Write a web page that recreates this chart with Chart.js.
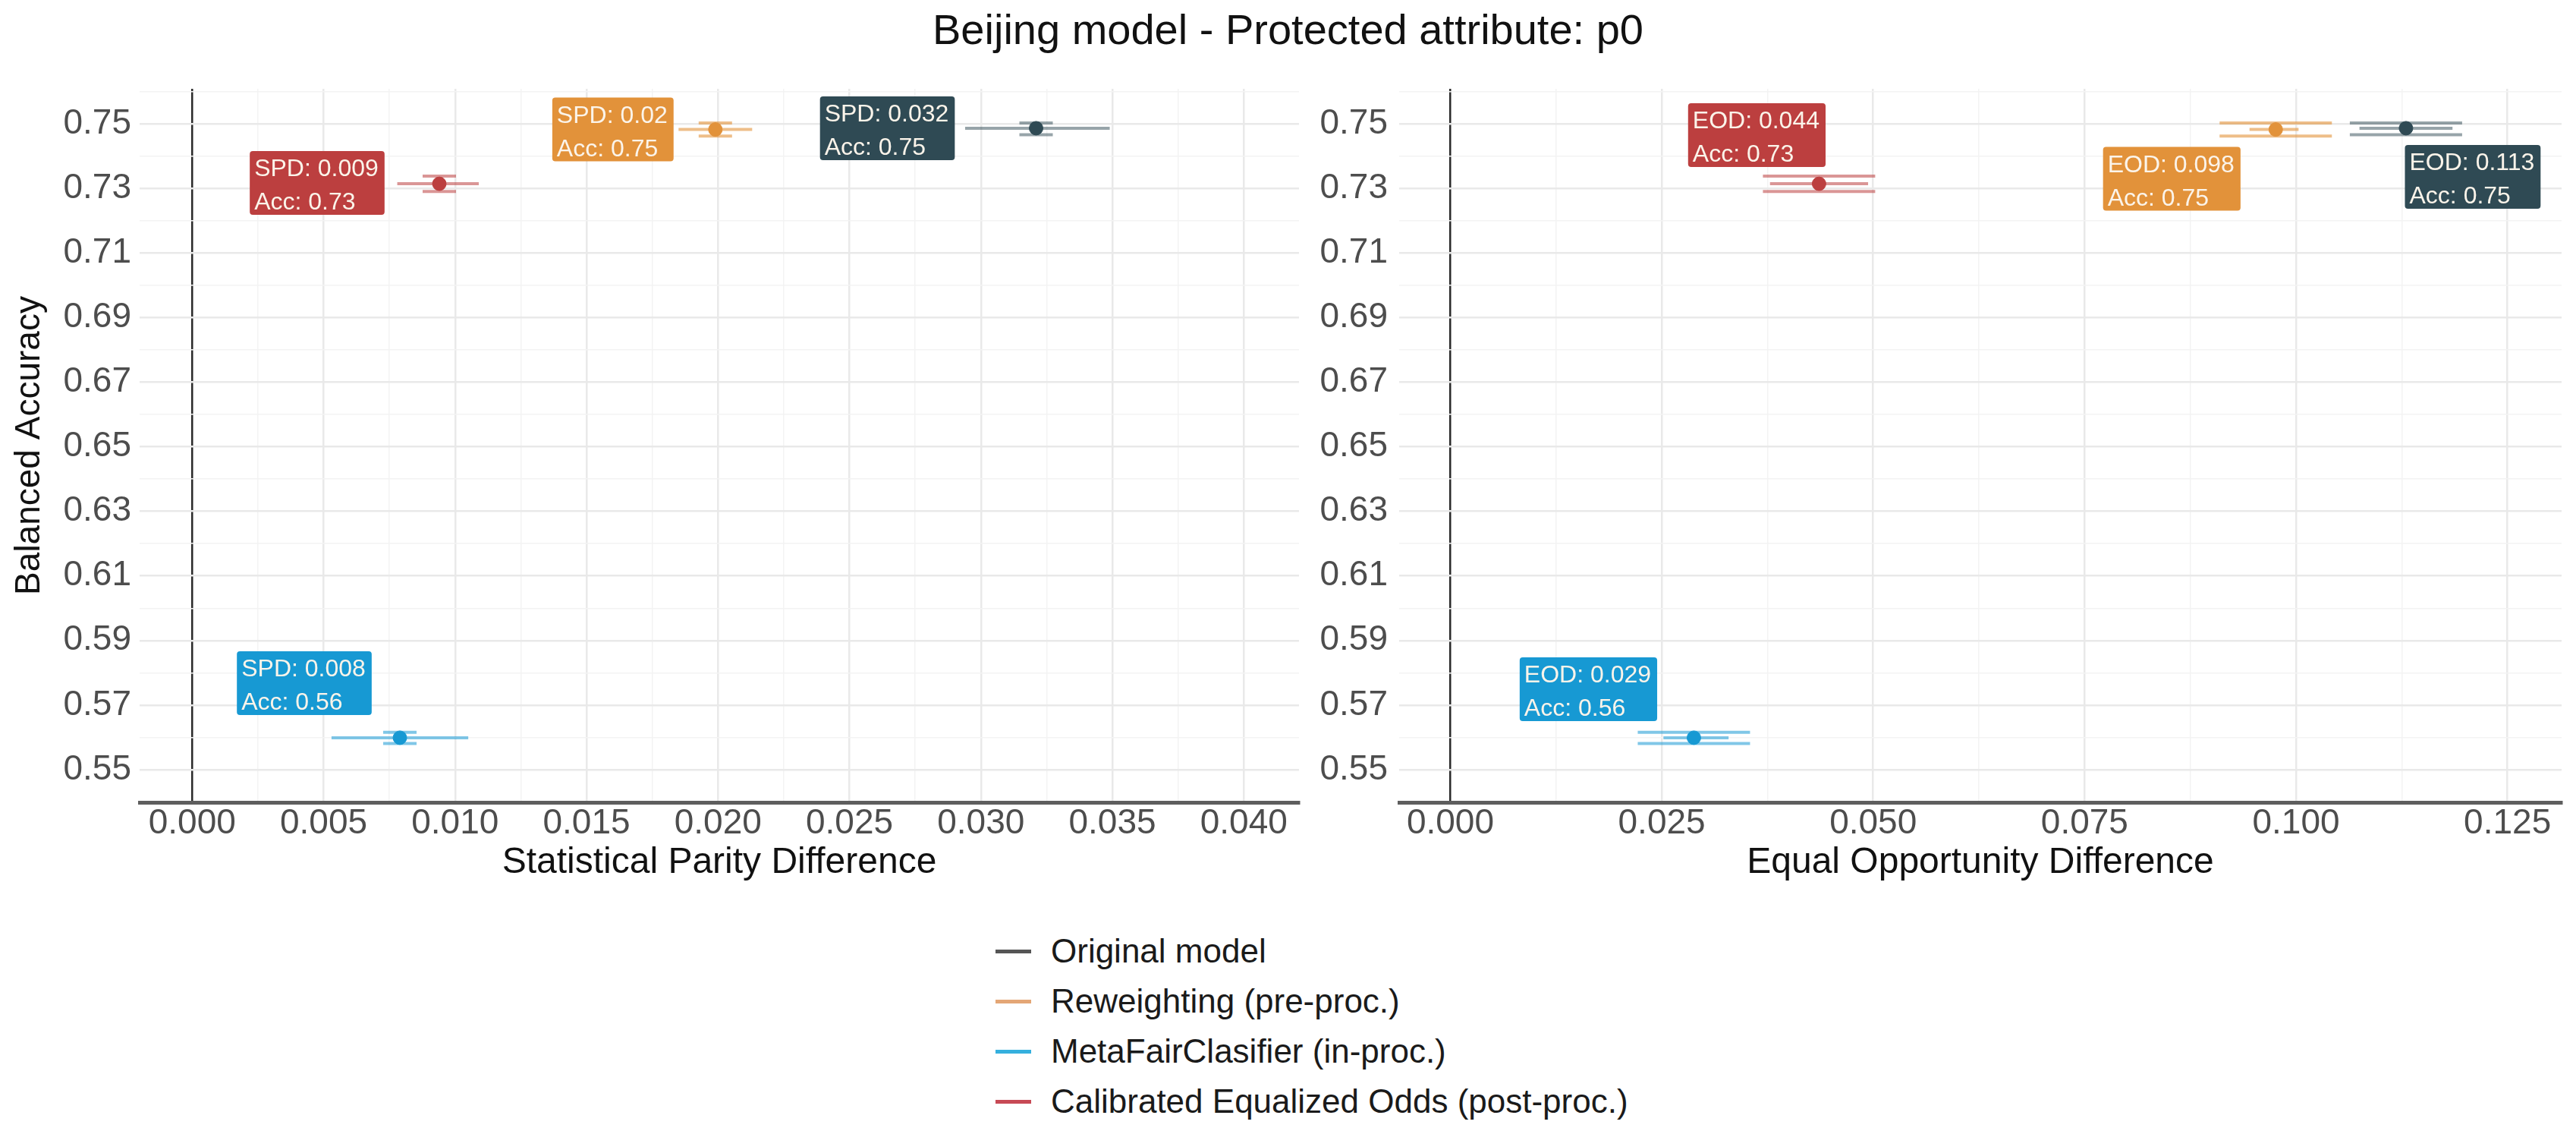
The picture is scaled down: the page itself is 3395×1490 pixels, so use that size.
<!DOCTYPE html>
<html>
<head>
<meta charset="utf-8">
<script src="https://cdn.jsdelivr.net/npm/chart.js@4.4.1/dist/chart.umd.min.js"></script>
<style>
  html, body { margin: 0; padding: 0; background: #fff; }
  #page { position: relative; width: 3395px; height: 1490px; font-family: 'Liberation Sans', Arial, sans-serif; }
  #title { position: absolute; left: 0; top: 11px; width: 3395px; text-align: center; font-size: 56px; line-height: 56px; color: #111; }
  #spdChart { position: absolute; left: 0; top: 0; }
  #eodChart { position: absolute; left: 1715px; top: 0; }
  #legend { position: absolute; left: 1312px; top: 1220px; }
  .row { height: 66px; display: flex; align-items: center; font-size: 44px; color: #1a1a1a; }
  .key { width: 47px; height: 5px; margin-right: 26px; }
</style>
</head>
<body>
<div id="page">
  <div id="title">Beijing model - Protected attribute: p0</div>
  <canvas id="spdChart" width="1730" height="1180"></canvas>
  <canvas id="eodChart" width="1680" height="1180"></canvas>
  <div id="legend"></div>
</div>
<script>
// models, in legend order
const models = ['Original model', 'Reweighting (pre-proc.)', 'MetaFairClasifier (in-proc.)', 'Calibrated Equalized Odds (post-proc.)']

// balanced accuracy (mean and interval)
const accMean = [0.7486, 0.7482, 0.5599, 0.7314]
const accLow = [0.7466, 0.7462, 0.5581, 0.7290]
const accHigh = [0.7502, 0.7502, 0.5616, 0.7338]

// statistical parity difference
const spdMean = [0.0321, 0.0199, 0.0079, 0.0094]
const spdLow = [0.0294, 0.0185, 0.0053, 0.0078]
const spdHigh = [0.0349, 0.0213, 0.0105, 0.0109]

// equal opportunity difference
const eodMean = [0.1130, 0.0976, 0.0288, 0.0436]
const eodLow = [0.1075, 0.0945, 0.0252, 0.0378]
const eodHigh = [0.1185, 0.1003, 0.0329, 0.0494]

// ticks
const yMajor = [0.55, 0.57, 0.59, 0.61, 0.63, 0.65, 0.67, 0.69, 0.71, 0.73, 0.75]
const yMajorLabels = ['0.55', '0.57', '0.59', '0.61', '0.63', '0.65', '0.67', '0.69', '0.71', '0.73', '0.75']
const yMinor = [0.54, 0.56, 0.58, 0.60, 0.62, 0.64, 0.66, 0.68, 0.70, 0.72, 0.74, 0.76]
const spdMajor = [0, 0.005, 0.010, 0.015, 0.020, 0.025, 0.030, 0.035, 0.040]
const spdMajorLabels = ['0.000', '0.005', '0.010', '0.015', '0.020', '0.025', '0.030', '0.035', '0.040']
const spdMinor = [0.0025, 0.0075, 0.0125, 0.0175, 0.0225, 0.0275, 0.0325, 0.0375]
const eodMajor = [0, 0.025, 0.050, 0.075, 0.100, 0.125]
const eodMajorLabels = ['0.000', '0.025', '0.050', '0.075', '0.100', '0.125']
const eodMinor = [0.0125, 0.0375, 0.0625, 0.0875, 0.1125]

const colors = ['#2f4a54', '#e2923a', '#1799d3', '#bc3f3f']
const barColors = ['rgba(47,74,84,0.5)', 'rgba(226,146,58,0.6)', 'rgba(23,153,211,0.55)', 'rgba(188,63,63,0.55)']
const legendColors = ['#555555', '#e4a676', '#35b0de', '#c74a55']
const FONT = "'Liberation Sans', Arial, sans-serif"

const near = (a, b) => Math.abs(a - b) < 1e-9
const fmt3 = v => String(Number(v.toFixed(3)))

// legend
document.getElementById('legend').innerHTML = models.map((m, i) =>
    `<div class="row"><div class="key" style="background:${legendColors[i]}"></div>${m}</div>`).join('')

const errorBars = {
    id: 'errorBars',
    beforeDatasetsDraw(chart, args, opts) {
        const { ctx, scales: { x, y } } = chart
        ctx.save()
        opts.mean.forEach((m, i) => {
            const px = x.getPixelForValue(m)
            const py = y.getPixelForValue(accMean[i])
            const yl = y.getPixelForValue(accLow[i])
            const yh = y.getPixelForValue(accHigh[i])
            ctx.strokeStyle = barColors[i]
            ctx.lineWidth = 4
            ctx.beginPath()
            ctx.moveTo(x.getPixelForValue(opts.low[i]), py)
            ctx.lineTo(x.getPixelForValue(opts.high[i]), py)
            ctx.moveTo(px, yl)
            ctx.lineTo(px, yh)
            ctx.moveTo(px - opts.cap, yl)
            ctx.lineTo(px + opts.cap, yl)
            ctx.moveTo(px - opts.cap, yh)
            ctx.lineTo(px + opts.cap, yh)
            ctx.stroke()
        })
        ctx.restore()
    },
    afterDatasetsDraw(chart, args, opts) {
        const { ctx, scales: { x, y } } = chart
        ctx.save()
        ctx.font = `32px ${FONT}`
        ctx.textAlign = 'left'
        ctx.textBaseline = 'alphabetic'
        opts.mean.forEach((m, i) => {
            const t1 = `${opts.prefix}: ${fmt3(m)}`
            const t2 = `Acc: ${accMean[i].toFixed(2)}`
            const w = Math.max(ctx.measureText(t1).width, ctx.measureText(t2).width) + 14
            const h = 84
            const cx = x.getPixelForValue(m) + opts.offsets[i][0]
            const cy = y.getPixelForValue(accMean[i]) + opts.offsets[i][1]
            const left = cx - w / 2, top = cy - h / 2
            ctx.fillStyle = colors[i]
            ctx.beginPath()
            ctx.roundRect(left, top, w, h, 4)
            ctx.fill()
            ctx.fillStyle = '#fbf4ea'
            ctx.fillText(t1, left + 6, top + 33)
            ctx.fillText(t2, left + 6, top + 77)
        })
        ctx.restore()
    }
}

function makeTicks(major, minor) {
    return [...major, ...minor].sort((a, b) => a - b).map(v => ({ value: v }))
}

function buildChart(id, opts) {
    const ctx = document.getElementById(id)
    return new Chart(ctx, {
        type: 'scatter',
        data: {
            datasets: models.map((m, i) => ({
                label: m,
                data: [{ x: opts.mean[i], y: accMean[i] }],
                backgroundColor: colors[i],
                borderColor: colors[i],
                pointRadius: 9,
                pointHoverRadius: 9
            }))
        },
        options: {
            responsive: false,
            animation: false,
            devicePixelRatio: 1,
            layout: { padding: { top: 117, bottom: 0, left: 0, right: opts.padRight } },
            plugins: {
                legend: { display: false },
                tooltip: { enabled: false },
                errorBars: opts
            },
            scales: {
                x: {
                    type: 'linear',
                    min: opts.min,
                    max: opts.max,
                    afterBuildTicks: s => { s.ticks = makeTicks(opts.major, opts.minor) },
                    afterFit: s => { s.height = 123 },
                    ticks: {
                        padding: 1,
                        color: '#4d4d4d',
                        font: { family: FONT, size: 46 },
                        maxRotation: 0,
                        autoSkip: false,
                        callback: v => {
                            const k = opts.major.findIndex(t => near(t, v))
                            return k >= 0 ? opts.majorLabels[k] : ''
                        }
                    },
                    grid: {
                        drawTicks: false,
                        color: c => near(c.tick.value, 0) ? '#2a2a2a' : (opts.major.some(t => near(t, c.tick.value)) ? '#e9e9e9' : '#f3f3f3'),
                        lineWidth: c => near(c.tick.value, 0) ? 2.5 : (opts.major.some(t => near(t, c.tick.value)) ? 2.5 : 1.5)
                    },
                    border: { display: true, color: '#5e5e5e', width: 5 },
                    title: {
                        display: true,
                        text: opts.xTitle,
                        color: '#111',
                        font: { family: FONT, size: 48 },
                        padding: { top: 0, bottom: 14 }
                    }
                },
                y: {
                    type: 'linear',
                    min: 0.5399,
                    max: 0.7608,
                    afterBuildTicks: s => { s.ticks = makeTicks(yMajor, yMinor) },
                    afterFit: s => { s.width = opts.yWidth },
                    ticks: {
                        padding: opts.yPad,
                        color: '#4d4d4d',
                        font: { family: FONT, size: 46 },
                        autoSkip: false,
                        callback: v => {
                            const k = yMajor.findIndex(t => near(t, v))
                            return k >= 0 ? yMajorLabels[k] : ''
                        }
                    },
                    grid: {
                        drawTicks: false,
                        color: c => yMajor.some(t => near(t, c.tick.value)) ? '#e9e9e9' : '#f3f3f3',
                        lineWidth: c => yMajor.some(t => near(t, c.tick.value)) ? 2.5 : 1.5
                    },
                    border: { display: false },
                    title: {
                        display: opts.yTitle,
                        text: 'Balanced Accuracy',
                        color: '#111',
                        font: { family: FONT, size: 46 },
                        padding: { top: 12, bottom: 0 }
                    }
                }
            }
        },
        plugins: [errorBars]
    })
}

buildChart('spdChart', {
    mean: spdMean, low: spdLow, high: spdHigh,
    min: -0.002, max: 0.0421,
    major: spdMajor, majorLabels: spdMajorLabels, minor: spdMinor,
    xTitle: 'Statistical Parity Difference', prefix: 'SPD',
    yTitle: true, yWidth: 184, yPad: 11, padRight: 18,
    cap: 22,
    offsets: [[-196, 0], [-135, 0], [-126, -72], [-161, -1]]
})

buildChart('eodChart', {
    mean: eodMean, low: eodLow, high: eodHigh,
    min: -0.00605, max: 0.1314,
    major: eodMajor, majorLabels: eodMajorLabels, minor: eodMinor,
    xTitle: 'Equal Opportunity Difference', prefix: 'EOD',
    yTitle: false, yWidth: 129, yPad: 15, padRight: 19,
    cap: 74,
    offsets: [[88, 64], [-137, 65], [-139, -64], [-82, -64]]
})
</script>
</body>
</html>
